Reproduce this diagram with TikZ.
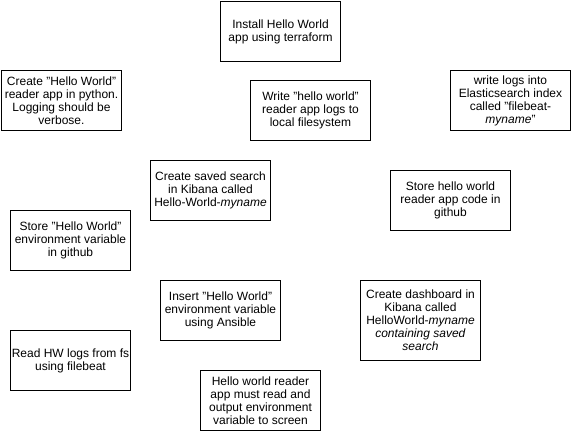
\documentclass[tikz,border=0pt]{standalone}
\usepackage{fontspec}
\setmainfont{Liberation Sans}
\begin{document}
\begin{tikzpicture}[x=1pt,y=-1pt,
  task/.style={draw=black,line width=1pt,fill=white,minimum width=120pt,minimum height=60pt,
    inner sep=0pt,align=center,font=\fontsize{12}{13}\selectfont,anchor=north west},
  tall/.style={minimum height=80pt}]
\useasboundingbox (0,0) rectangle (571,431);
\node[task] (install) at (220,1) {Install Hello World\\app using terraform};
\node[task] (create) at (1,70) {Create "Hello World"\\reader app in python.\\Logging should be\\verbose.};
\node[task] (writelogs) at (250,80) {Write "hello world"\\reader app logs to\\local filesystem};
\node[task] (elastic) at (450,70) {write logs into\\Elasticsearch index\\called "filebeat-\\\textit{myname}"};
\node[task] (search) at (150,160) {Create saved search\\in Kibana called\\Hello-World-\textit{myname}};
\node[task] (code) at (390,170) {Store hello world\\reader app code in\\github};
\node[task] (envgit) at (10,210) {Store "Hello World"\\environment variable\\in github};
\node[task] (ansible) at (160,280) {Insert "Hello World"\\environment variable\\using Ansible};
\node[task,tall] (dash) at (360,280) {Create dashboard in\\Kibana called\\HelloWorld-\textit{myname}\\\textit{containing saved}\\\textit{search}};
\node[task] (filebeat) at (10,330) {Read HW logs from fs\\using filebeat};
\node[task] (screen) at (200,370) {Hello world reader\\app must read and\\output environment\\variable to screen};
\end{tikzpicture}
\end{document}
